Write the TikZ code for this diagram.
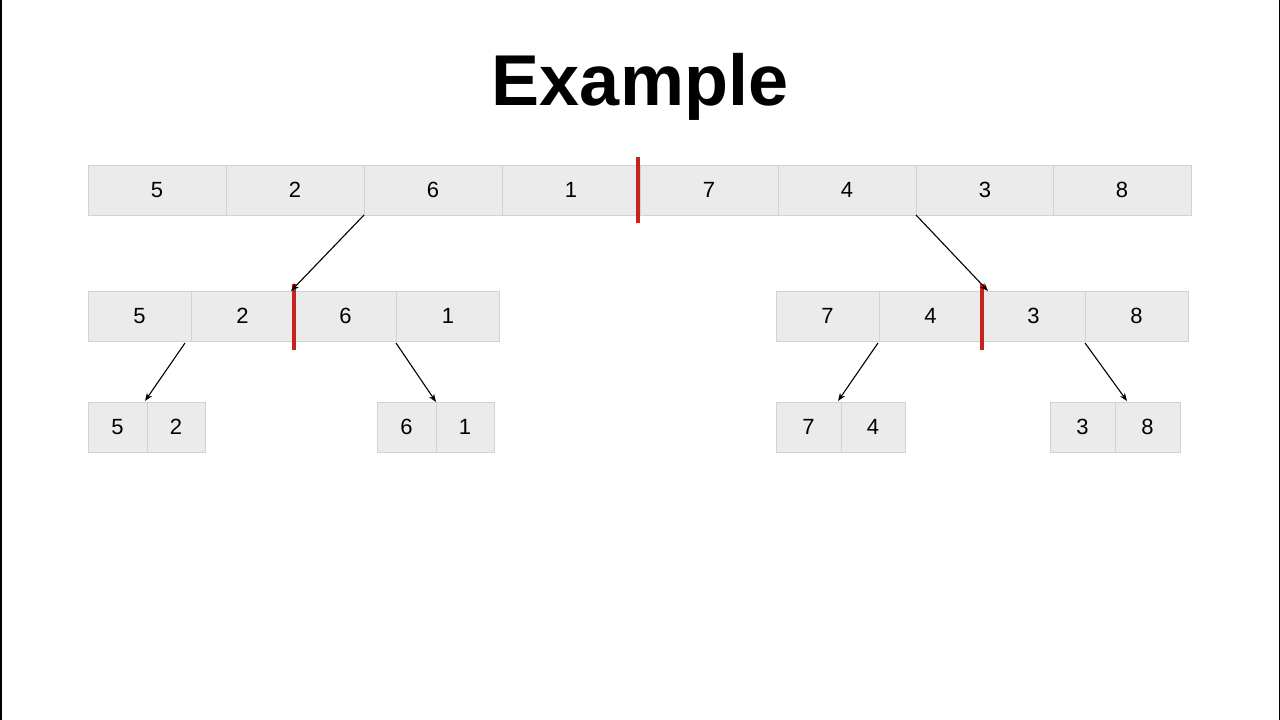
\documentclass[tikz,border=0pt]{standalone}
\usepackage{fontspec}
\setmainfont{Liberation Sans}
\usetikzlibrary{arrows.meta,calc}

\definecolor{cellgray}{HTML}{EBEBEB}
\definecolor{cellline}{HTML}{D2D2D2}
\definecolor{splitred}{HTML}{C8221E}

\tikzset{
    cell/.style={draw=cellline, fill=cellgray, line width=1, minimum height=50,
        inner sep=0, outer sep=0, font=\fontsize{22}{26}\selectfont},
    split/.style={draw=splitred, line width=3.5},
    arrow/.style={-{Stealth[length=8pt,width=6pt]}, line width=1.1}
}

\begin{document}
\begin{tikzpicture}[x=1pt, y=-1pt]
    \useasboundingbox (0,0) rectangle (1280,720);
    \fill[white] (0,0) rectangle (1280,720);
    \draw[line width=1.5] (0.75,0) -- (0.75,720);
    \draw[line width=1.5] (1279.25,0) -- (1279.25,720);
    \node[font=\fontsize{72}{86}\selectfont\bfseries] (title) at (640,87) {Example};
    % Top row
    \node[cell, minimum width=138] (t1) at (157,190) {5};
    \node[cell, minimum width=138] (t2) at (295,190) {2};
    \node[cell, minimum width=138] (t3) at (433,190) {6};
    \node[cell, minimum width=138] (t4) at (571,190) {1};
    \node[cell, minimum width=138] (t5) at (709,190) {7};
    \node[cell, minimum width=138] (t6) at (847,190) {4};
    \node[cell, minimum width=138] (t7) at (985,190) {3};
    \node[cell, minimum width=138] (t8) at (1122,190) {8};
    \draw[split] ($(t4.north east)+(-2,-8)$) -- ($(t4.south east)+(-2,8)$);
    % Second row
    \node[cell, minimum width=103] (l1) at (139.5,316) {5};
    \node[cell, minimum width=103] (l2) at (242.5,316) {2};
    \node[cell, minimum width=103] (l3) at (345.5,316) {6};
    \node[cell, minimum width=103] (l4) at (448,316) {1};
    \draw[split] ($(l2.north east)+(0,-7)$) -- ($(l2.south east)+(0,9)$);
    \node[cell, minimum width=103] (r1) at (827.5,316) {7};
    \node[cell, minimum width=103] (r2) at (930.5,316) {4};
    \node[cell, minimum width=103] (r3) at (1033.5,316) {3};
    \node[cell, minimum width=103] (r4) at (1136.5,316) {8};
    \draw[split] ($(r2.north east)+(0,-7)$) -- ($(r2.south east)+(0,9)$);
    % Third row
    \node[cell, minimum width=59] (ll1) at (117.5,427) {5};
    \node[cell, minimum width=58] (ll2) at (176,427) {2};
    \node[cell, minimum width=59] (lr1) at (406.5,427) {6};
    \node[cell, minimum width=58] (lr2) at (465,427) {1};
    \node[cell, minimum width=65] (rl1) at (808.5,427) {7};
    \node[cell, minimum width=64] (rl2) at (873,427) {4};
    \node[cell, minimum width=65] (rr1) at (1082.5,427) {3};
    \node[cell, minimum width=65] (rr2) at (1147.5,427) {8};
    % Arrows
    \draw[arrow] (t2.south east) -- ($(l2.north east)+(-3,0)$);
    \draw[arrow] (t7.south west) -- ($(r2.north east)+(6,0)$);
    \draw[arrow] ($(l1.south east)+(-6,2)$) -- ($(ll1.north east)+(-2,-1)$);
    \draw[arrow] ($(l3.south east)+(-1,2)$) -- (lr1.north east);
    \draw[arrow] ($(r1.south east)+(-1,2)$) -- ($(rl1.north east)+(-3,-1)$);
    \draw[arrow] ($(r3.south east)+(0,2)$) -- ($(rr1.north east)+(12,-1)$);
\end{tikzpicture}
\end{document}
